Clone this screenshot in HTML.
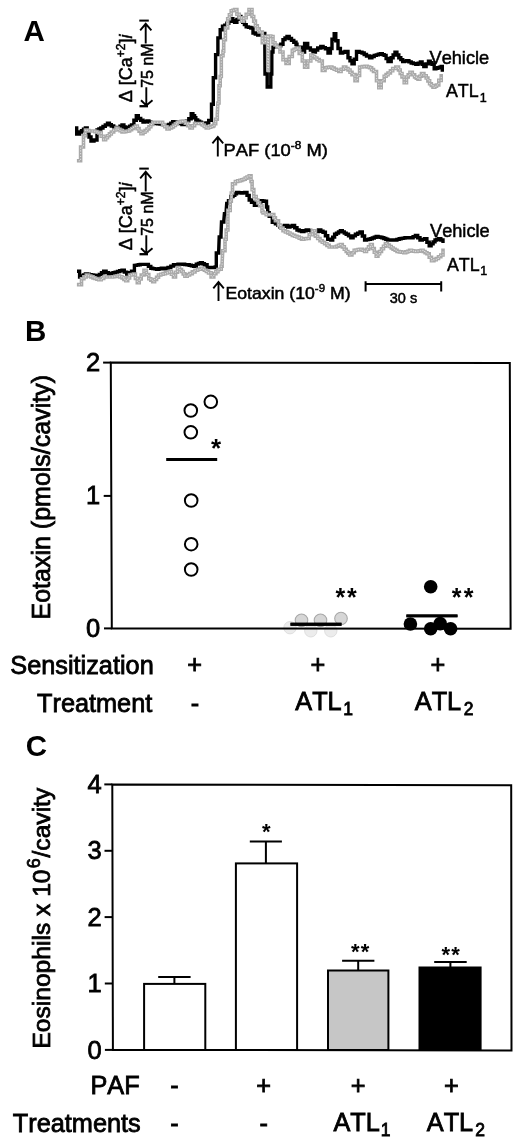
<!DOCTYPE html>
<html><head><meta charset="utf-8"><title>Figure</title>
<style>
html,body{margin:0;padding:0;background:#fff;}
svg{display:block;}
svg text{font-family:"Liberation Sans", Arial, Helvetica, sans-serif;fill:#000;font-kerning:none;stroke:#000;stroke-width:0.8px;}
svg text.nb{stroke:none;}
svg text.th{stroke-width:0.5px;}
</style></head>
<body>
<svg width="520" height="1144" viewBox="0 0 520 1144">
<rect width="520" height="1144" fill="#fff"/>
<text x="23.5" y="40.6" class="nb" font-size="29.5" font-weight="700">A</text>
<text x="25" y="340.9" class="nb" font-size="29.5" font-weight="700">B</text>
<text x="25.8" y="756.3" class="nb" font-size="29.5" font-weight="700">C</text>
<path d="M76.7 128.0 L76.7 134.0 L79.6 134.0 L79.6 132.0 L81.5 132.0 L81.5 130.7 L83.5 130.7 L83.5 129.3 L85.4 129.3 L85.4 128.0 L87.2 128.0 L87.2 132.5 L89.0 132.5 L89.0 137.0 L91.0 137.0 L91.0 141.0 L94.0 141.0 L94.0 140.0 L97.0 140.0 L97.0 130.0 L98.9 130.0 L98.9 129.0 L100.8 129.0 L100.8 128.0 L103.0 128.0 L103.0 126.4 L105.3 126.4 L105.3 124.9 L107.5 124.9 L107.5 123.3 L109.4 123.3 L109.4 124.7 L111.3 124.7 L111.3 126.0 L113.7 126.0 L113.7 127.5 L116.0 127.5 L116.0 129.0 L118.0 129.0 L118.0 127.7 L120.0 127.7 L120.0 126.3 L122.0 126.3 L122.0 125.0 L123.9 125.0 L123.9 127.0 L125.8 127.0 L125.8 129.0 L127.7 129.0 L127.7 127.7 L129.6 127.7 L129.6 126.3 L131.5 126.3 L131.5 125.0 L133.9 125.0 L133.9 120.3 L136.3 120.3 L136.3 115.6 L138.3 115.6 L138.3 118.5 L140.7 118.5 L140.7 120.2 L143.0 120.2 L143.0 122.0 L145.0 122.0 L145.0 121.5 L147.0 121.5 L147.0 121.0 L148.9 121.0 L148.9 122.0 L150.8 122.0 L150.8 123.0 L153.1 123.0 L153.1 123.2 L155.4 123.2 L155.4 123.5 L157.7 123.5 L157.7 123.8 L160.0 123.8 L160.0 124.0 L162.3 124.0 L162.3 124.6 L164.6 124.6 L164.6 125.2 L166.9 125.2 L166.9 125.8 L168.8 125.8 L168.8 124.4 L170.8 124.4 L170.8 123.1 L172.7 123.1 L172.7 121.7 L174.4 121.7 L174.4 121.7 L176.2 121.7 L176.2 121.7 L178.1 121.7 L178.1 122.7 L180.0 122.7 L180.0 123.6 L181.9 123.6 L181.9 124.6 L184.2 124.6 L184.2 122.7 L186.5 122.7 L186.5 120.7 L188.8 120.7 L188.8 118.8 L191.2 118.8 L191.2 113.7 L192.9 113.7 L192.9 115.7 L194.6 115.7 L194.6 117.7 L195.8 117.7 L195.8 120.0 L197.7 120.0 L197.7 121.2 L199.6 121.2 L199.6 122.3 L201.5 122.3 L201.5 123.5 L203.8 123.5 L203.8 123.2 L206.2 123.2 L206.2 122.9 L208.7 122.9 L208.7 120.4 L211.5 120.4 L211.5 120.4 L211.5 104.2 L213.3 104.2 L213.3 103.0 L213.3 77.7 L215.6 77.7 L215.6 76.5 L215.6 54.6 L217.9 54.6 L217.9 53.5 L217.9 37.9 L220.2 37.9 L220.2 36.7 L220.2 29.8 L222.5 29.8 L222.5 26.3 L224.8 26.3 L224.8 25.2 L226.8 25.2 L226.8 23.2 L228.8 23.2 L228.8 21.2 L231.2 21.2 L231.2 18.8 L232.9 18.8 L232.9 20.6 L234.6 20.6 L234.6 22.3 L236.9 22.3 L236.9 19.4 L239.2 19.4 L239.2 16.5 L240.9 16.5 L240.9 19.4 L242.7 19.4 L242.7 22.3 L244.4 22.3 L244.4 24.6 L246.2 24.6 L246.2 26.9 L248.5 26.9 L248.5 27.4 L250.8 27.4 L250.8 28.0 L253.0 28.0 L253.0 33.0 L255.3 33.0 L255.3 34.0 L257.7 34.0 L257.7 35.0 L260.0 35.0 L260.0 34.2 L262.3 34.2 L262.3 33.5 L264.8 33.5 L264.8 40.0 L265.0 74.0 L267.2 74.0 L267.2 87.0 L268.6 87.0 L268.6 87.0 L270.8 87.0 L270.8 74.0 L271.8 74.0 L271.8 52.0 L273.0 52.0 L273.0 47.3 L275.0 47.3 L275.0 47.3 L277.0 47.3 L277.0 47.3 L278.9 47.3 L278.9 45.8 L280.8 45.8 L280.8 44.2 L283.0 44.2 L283.0 39.6 L285.0 39.6 L285.0 38.0 L287.0 38.0 L287.0 36.5 L289.2 36.5 L289.2 38.5 L291.5 38.5 L291.5 40.4 L293.8 40.4 L293.8 42.3 L296.0 42.3 L296.0 44.2 L297.0 44.2 L297.0 47.3 L298.9 47.3 L298.9 47.3 L300.8 47.3 L300.8 47.3 L303.0 47.3 L303.0 52.0 L304.6 52.0 L304.6 43.5 L307.7 43.5 L307.7 48.0 L310.4 48.0 L310.4 50.0 L313.0 50.0 L313.0 52.0 L315.4 52.0 L315.4 50.0 L317.7 50.0 L317.7 48.0 L320.8 48.0 L320.8 46.5 L323.1 46.5 L323.1 47.6 L325.4 47.6 L325.4 48.8 L328.0 48.8 L328.0 53.0 L330.4 53.0 L330.4 48.5 L332.0 48.5 L332.0 39.2 L334.2 39.2 L334.2 33.8 L335.8 33.8 L335.8 40.8 L338.0 40.8 L338.0 48.5 L340.4 48.5 L340.4 53.0 L342.7 53.0 L342.7 52.2 L345.0 52.2 L345.0 51.5 L348.0 51.5 L348.0 57.7 L350.0 57.7 L350.0 60.8 L352.0 60.8 L352.0 63.8 L354.2 63.8 L354.2 59.2 L356.5 59.2 L356.5 51.5 L359.2 51.5 L359.2 52.2 L362.0 52.2 L362.0 53.0 L364.2 53.0 L364.2 54.5 L366.5 54.5 L366.5 56.0 L369.6 56.0 L369.6 57.7 L371.9 57.7 L371.9 56.5 L374.2 56.5 L374.2 55.4 L376.3 55.4 L376.3 54.9 L378.3 54.9 L378.3 54.3 L380.4 54.3 L380.4 53.8 L382.3 53.8 L382.3 54.6 L384.2 54.6 L384.2 55.4 L386.1 55.4 L386.1 58.5 L388.0 58.5 L388.0 61.5 L391.2 61.5 L391.2 57.7 L393.1 57.7 L393.1 55.0 L395.0 55.0 L395.0 52.3 L396.9 52.3 L396.9 55.0 L398.8 55.0 L398.8 57.7 L400.8 57.7 L400.8 59.6 L402.7 59.6 L402.7 61.5 L404.6 61.5 L404.6 61.1 L406.5 61.1 L406.5 60.8 L408.9 60.8 L408.9 61.9 L411.2 61.9 L411.2 63.0 L413.5 63.0 L413.5 63.6 L415.8 63.6 L415.8 64.2 L418.1 64.2 L418.1 63.1 L420.4 63.1 L420.4 62.0 L422.1 62.0 L422.1 64.2 L423.8 64.2 L423.8 66.5 L426.1 66.5 L426.1 63.9 L428.5 63.9 L428.5 61.3 L430.2 61.3 L430.2 62.8 L432.0 62.8 L432.0 64.2 L434.2 64.2 L434.2 68.8 L435.9 68.8 L435.9 68.2 L437.7 68.2 L437.7 67.7 L439.4 67.7 L439.4 67.1 L441.2 67.1 L441.2 66.5 L442.3 66.5 L442.3 70.0" fill="none" stroke="#000" stroke-width="3.4" stroke-linejoin="miter" stroke-linecap="square"/>
<path d="M78.7 160.8 L80.6 160.8 L80.6 147.0 L83.5 147.0 L83.5 135.8 L85.4 135.8 L85.4 130.0 L87.2 130.0 L87.2 130.5 L89.0 130.5 L89.0 131.0 L91.0 131.0 L91.0 131.0 L93.0 131.0 L93.0 131.0 L94.9 131.0 L94.9 131.6 L96.9 131.6 L96.9 132.3 L98.8 132.3 L98.8 132.9 L101.2 132.9 L101.2 136.2 L103.7 136.2 L103.7 139.6 L105.6 139.6 L105.6 137.7 L107.5 137.7 L107.5 135.8 L109.4 135.8 L109.4 133.9 L111.3 133.9 L111.3 132.0 L113.7 132.0 L113.7 130.0 L116.0 130.0 L116.0 128.0 L118.0 128.0 L118.0 129.3 L120.0 129.3 L120.0 130.7 L122.0 130.7 L122.0 132.0 L123.9 132.0 L123.9 131.7 L125.8 131.7 L125.8 131.3 L127.7 131.3 L127.7 131.0 L129.6 131.0 L129.6 129.8 L131.6 129.8 L131.6 128.5 L133.5 128.5 L133.5 127.2 L135.4 127.2 L135.4 126.0 L137.3 126.0 L137.3 128.6 L139.1 128.6 L139.1 131.2 L141.0 131.2 L141.0 133.8 L143.0 133.8 L143.0 132.2 L145.0 132.2 L145.0 130.6 L147.0 130.6 L147.0 129.0 L148.9 129.0 L148.9 126.8 L150.8 126.8 L150.8 124.5 L152.7 124.5 L152.7 122.3 L154.6 122.3 L154.6 122.3 L156.6 122.3 L156.6 122.3 L158.5 122.3 L158.5 122.3 L160.4 122.3 L160.4 122.3 L162.6 122.3 L162.6 124.5 L164.8 124.5 L164.8 126.8 L167.0 126.8 L167.0 129.0 L169.2 129.0 L169.2 128.0 L171.5 128.0 L171.5 127.0 L173.4 127.0 L173.4 125.4 L175.4 125.4 L175.4 123.9 L177.3 123.9 L177.3 122.3 L179.2 122.3 L179.2 121.9 L181.1 121.9 L181.1 121.4 L183.0 121.4 L183.0 121.0 L185.3 121.0 L185.3 123.3 L187.7 123.3 L187.7 125.7 L190.0 125.7 L190.0 128.0 L192.3 128.0 L192.3 125.8 L194.6 125.8 L194.6 123.5 L196.5 123.5 L196.5 123.5 L198.5 123.5 L198.5 123.5 L200.4 123.5 L200.4 123.5 L202.3 123.5 L202.3 125.0 L204.3 125.0 L204.3 126.5 L206.2 126.5 L206.2 128.0 L208.5 128.0 L208.5 127.3 L210.7 127.3 L210.7 126.5 L213.0 126.5 L213.0 125.8 L214.0 125.8 L214.0 123.8 L215.7 123.8 L215.7 119.2 L217.3 119.2 L217.3 114.6 L217.9 103.0 L219.0 103.0 L219.0 85.8 L220.2 85.8 L220.2 76.5 L221.3 76.5 L221.3 62.7 L221.3 55.8 L223.0 55.8 L223.0 51.2 L223.7 51.2 L223.7 39.6 L225.4 39.6 L225.4 28.0 L227.7 28.0 L227.7 18.8 L229.4 18.8 L229.4 14.8 L231.2 14.8 L231.2 10.8 L232.9 10.8 L232.9 10.2 L234.6 10.2 L234.6 9.6 L236.9 9.6 L236.9 14.2 L239.2 14.2 L239.2 17.7 L241.5 17.7 L241.5 21.2 L243.8 21.2 L243.8 17.7 L246.2 17.7 L246.2 14.2 L249.0 14.2 L249.0 9.6 L252.0 9.6 L252.0 16.5 L253.7 16.5 L253.7 21.1 L255.4 21.1 L255.4 25.8 L257.3 25.8 L257.3 28.9 L259.2 28.9 L259.2 32.0 L262.3 32.0 L262.3 42.7 L265.4 42.7 L265.4 36.5 L267.6 36.5 L267.6 36.0 L267.8 70.0 L268.4 70.0 L268.6 36.0 L270.8 36.0 L270.8 36.5 L273.0 36.5 L273.0 42.7 L275.0 42.7 L275.0 45.0 L277.0 45.0 L277.0 47.3 L280.0 47.3 L280.0 52.0 L283.0 52.0 L283.0 59.6 L286.0 59.6 L286.0 63.5 L289.2 63.5 L289.2 56.5 L292.3 56.5 L292.3 50.4 L294.1 50.4 L294.1 49.2 L296.0 49.2 L296.0 48.0 L299.2 48.0 L299.2 53.5 L302.3 53.5 L302.3 61.0 L304.6 61.0 L304.6 67.3 L307.7 67.3 L307.7 61.0 L310.8 61.0 L310.8 55.0 L312.7 55.0 L312.7 56.5 L314.6 56.5 L314.6 58.0 L316.9 58.0 L316.9 59.5 L319.2 59.5 L319.2 61.0 L322.3 61.0 L322.3 70.4 L325.0 70.4 L325.0 67.7 L327.3 67.7 L327.3 67.3 L329.6 67.3 L329.6 67.0 L331.9 67.0 L331.9 68.1 L334.2 68.1 L334.2 69.2 L336.5 69.2 L336.5 70.3 L338.8 70.3 L338.8 71.5 L341.1 71.5 L341.1 69.2 L343.5 69.2 L343.5 67.0 L345.8 67.0 L345.8 68.5 L348.0 68.5 L348.0 70.0 L350.0 70.0 L350.0 72.3 L352.0 72.3 L352.0 74.6 L355.0 74.6 L355.0 80.8 L357.3 80.8 L357.3 75.4 L359.6 75.4 L359.6 67.0 L362.3 67.0 L362.3 66.6 L365.0 66.6 L365.0 66.2 L367.3 66.2 L367.3 67.0 L369.6 67.0 L369.6 67.7 L371.6 67.7 L371.6 69.6 L373.5 69.6 L373.5 71.5 L376.5 71.5 L376.5 80.8 L378.8 80.8 L378.8 87.7 L381.2 87.7 L381.2 80.8 L384.2 80.8 L384.2 76.2 L386.1 76.2 L386.1 74.6 L388.0 74.6 L388.0 73.0 L390.4 73.0 L390.4 70.8 L392.7 70.8 L392.7 68.5 L395.8 68.5 L395.8 67.0 L398.5 67.0 L398.5 70.0 L400.2 70.0 L400.2 73.5 L402.0 73.5 L402.0 77.0 L404.2 77.0 L404.2 82.7 L406.5 82.7 L406.5 77.0 L408.2 77.0 L408.2 74.7 L410.0 74.7 L410.0 72.3 L412.3 72.3 L412.3 74.7 L414.6 74.7 L414.6 77.0 L416.3 77.0 L416.3 78.1 L418.0 78.1 L418.0 79.2 L419.8 79.2 L419.8 76.3 L421.5 76.3 L421.5 73.5 L423.9 73.5 L423.9 75.8 L426.2 75.8 L426.2 78.0 L427.9 78.0 L427.9 80.9 L429.6 80.9 L429.6 83.8 L431.3 83.8 L431.3 85.5 L433.0 85.5 L433.0 87.3 L434.8 87.3 L434.8 86.2 L436.5 86.2 L436.5 85.0 L438.8 85.0 L438.8 80.4 L441.2 80.4 L441.2 75.8" fill="none" stroke="#a9a9a9" stroke-width="3.6" stroke-linejoin="miter" stroke-linecap="square"/>
<path d="M78.7 160.8 L80.6 160.8 L80.6 147.0 L83.5 147.0 L83.5 135.8 L85.4 135.8 L85.4 130.0 L87.2 130.0 L87.2 130.5 L89.0 130.5 L89.0 131.0 L91.0 131.0 L91.0 131.0 L93.0 131.0 L93.0 131.0 L94.9 131.0 L94.9 131.6 L96.9 131.6 L96.9 132.3 L98.8 132.3 L98.8 132.9 L101.2 132.9 L101.2 136.2 L103.7 136.2 L103.7 139.6 L105.6 139.6 L105.6 137.7 L107.5 137.7 L107.5 135.8 L109.4 135.8 L109.4 133.9 L111.3 133.9 L111.3 132.0 L113.7 132.0 L113.7 130.0 L116.0 130.0 L116.0 128.0 L118.0 128.0 L118.0 129.3 L120.0 129.3 L120.0 130.7 L122.0 130.7 L122.0 132.0 L123.9 132.0 L123.9 131.7 L125.8 131.7 L125.8 131.3 L127.7 131.3 L127.7 131.0 L129.6 131.0 L129.6 129.8 L131.6 129.8 L131.6 128.5 L133.5 128.5 L133.5 127.2 L135.4 127.2 L135.4 126.0 L137.3 126.0 L137.3 128.6 L139.1 128.6 L139.1 131.2 L141.0 131.2 L141.0 133.8 L143.0 133.8 L143.0 132.2 L145.0 132.2 L145.0 130.6 L147.0 130.6 L147.0 129.0 L148.9 129.0 L148.9 126.8 L150.8 126.8 L150.8 124.5 L152.7 124.5 L152.7 122.3 L154.6 122.3 L154.6 122.3 L156.6 122.3 L156.6 122.3 L158.5 122.3 L158.5 122.3 L160.4 122.3 L160.4 122.3 L162.6 122.3 L162.6 124.5 L164.8 124.5 L164.8 126.8 L167.0 126.8 L167.0 129.0 L169.2 129.0 L169.2 128.0 L171.5 128.0 L171.5 127.0 L173.4 127.0 L173.4 125.4 L175.4 125.4 L175.4 123.9 L177.3 123.9 L177.3 122.3 L179.2 122.3 L179.2 121.9 L181.1 121.9 L181.1 121.4 L183.0 121.4 L183.0 121.0 L185.3 121.0 L185.3 123.3 L187.7 123.3 L187.7 125.7 L190.0 125.7 L190.0 128.0 L192.3 128.0 L192.3 125.8 L194.6 125.8 L194.6 123.5 L196.5 123.5 L196.5 123.5 L198.5 123.5 L198.5 123.5 L200.4 123.5 L200.4 123.5 L202.3 123.5 L202.3 125.0 L204.3 125.0 L204.3 126.5 L206.2 126.5 L206.2 128.0 L208.5 128.0 L208.5 127.3 L210.7 127.3 L210.7 126.5 L213.0 126.5 L213.0 125.8 L214.0 125.8 L214.0 123.8 L215.7 123.8 L215.7 119.2 L217.3 119.2 L217.3 114.6 L217.9 103.0 L219.0 103.0 L219.0 85.8 L220.2 85.8 L220.2 76.5 L221.3 76.5 L221.3 62.7 L221.3 55.8 L223.0 55.8 L223.0 51.2 L223.7 51.2 L223.7 39.6 L225.4 39.6 L225.4 28.0 L227.7 28.0 L227.7 18.8 L229.4 18.8 L229.4 14.8 L231.2 14.8 L231.2 10.8 L232.9 10.8 L232.9 10.2 L234.6 10.2 L234.6 9.6 L236.9 9.6 L236.9 14.2 L239.2 14.2 L239.2 17.7 L241.5 17.7 L241.5 21.2 L243.8 21.2 L243.8 17.7 L246.2 17.7 L246.2 14.2 L249.0 14.2 L249.0 9.6 L252.0 9.6 L252.0 16.5 L253.7 16.5 L253.7 21.1 L255.4 21.1 L255.4 25.8 L257.3 25.8 L257.3 28.9 L259.2 28.9 L259.2 32.0 L262.3 32.0 L262.3 42.7 L265.4 42.7 L265.4 36.5 L267.6 36.5 L267.6 36.0 L267.8 70.0 L268.4 70.0 L268.6 36.0 L270.8 36.0 L270.8 36.5 L273.0 36.5 L273.0 42.7 L275.0 42.7 L275.0 45.0 L277.0 45.0 L277.0 47.3 L280.0 47.3 L280.0 52.0 L283.0 52.0 L283.0 59.6 L286.0 59.6 L286.0 63.5 L289.2 63.5 L289.2 56.5 L292.3 56.5 L292.3 50.4 L294.1 50.4 L294.1 49.2 L296.0 49.2 L296.0 48.0 L299.2 48.0 L299.2 53.5 L302.3 53.5 L302.3 61.0 L304.6 61.0 L304.6 67.3 L307.7 67.3 L307.7 61.0 L310.8 61.0 L310.8 55.0 L312.7 55.0 L312.7 56.5 L314.6 56.5 L314.6 58.0 L316.9 58.0 L316.9 59.5 L319.2 59.5 L319.2 61.0 L322.3 61.0 L322.3 70.4 L325.0 70.4 L325.0 67.7 L327.3 67.7 L327.3 67.3 L329.6 67.3 L329.6 67.0 L331.9 67.0 L331.9 68.1 L334.2 68.1 L334.2 69.2 L336.5 69.2 L336.5 70.3 L338.8 70.3 L338.8 71.5 L341.1 71.5 L341.1 69.2 L343.5 69.2 L343.5 67.0 L345.8 67.0 L345.8 68.5 L348.0 68.5 L348.0 70.0 L350.0 70.0 L350.0 72.3 L352.0 72.3 L352.0 74.6 L355.0 74.6 L355.0 80.8 L357.3 80.8 L357.3 75.4 L359.6 75.4 L359.6 67.0 L362.3 67.0 L362.3 66.6 L365.0 66.6 L365.0 66.2 L367.3 66.2 L367.3 67.0 L369.6 67.0 L369.6 67.7 L371.6 67.7 L371.6 69.6 L373.5 69.6 L373.5 71.5 L376.5 71.5 L376.5 80.8 L378.8 80.8 L378.8 87.7 L381.2 87.7 L381.2 80.8 L384.2 80.8 L384.2 76.2 L386.1 76.2 L386.1 74.6 L388.0 74.6 L388.0 73.0 L390.4 73.0 L390.4 70.8 L392.7 70.8 L392.7 68.5 L395.8 68.5 L395.8 67.0 L398.5 67.0 L398.5 70.0 L400.2 70.0 L400.2 73.5 L402.0 73.5 L402.0 77.0 L404.2 77.0 L404.2 82.7 L406.5 82.7 L406.5 77.0 L408.2 77.0 L408.2 74.7 L410.0 74.7 L410.0 72.3 L412.3 72.3 L412.3 74.7 L414.6 74.7 L414.6 77.0 L416.3 77.0 L416.3 78.1 L418.0 78.1 L418.0 79.2 L419.8 79.2 L419.8 76.3 L421.5 76.3 L421.5 73.5 L423.9 73.5 L423.9 75.8 L426.2 75.8 L426.2 78.0 L427.9 78.0 L427.9 80.9 L429.6 80.9 L429.6 83.8 L431.3 83.8 L431.3 85.5 L433.0 85.5 L433.0 87.3 L434.8 87.3 L434.8 86.2 L436.5 86.2 L436.5 85.0 L438.8 85.0 L438.8 80.4 L441.2 80.4 L441.2 75.8" fill="none" stroke="#dedede" stroke-width="1.1" stroke-dasharray="1.2 1.6" stroke-linejoin="miter"/>
<path d="M78.7 271.2 L79.6 271.2 L79.6 277.0 L81.5 277.0 L81.5 276.0 L83.5 276.0 L83.5 275.0 L85.4 275.0 L85.4 274.0 L87.3 274.0 L87.3 274.3 L89.3 274.3 L89.3 274.7 L91.2 274.7 L91.2 275.0 L93.1 275.0 L93.1 275.3 L95.1 275.3 L95.1 275.7 L97.0 275.7 L97.0 276.0 L99.2 276.0 L99.2 274.4 L101.5 274.4 L101.5 272.8 L103.7 272.8 L103.7 271.2 L106.1 271.2 L106.1 272.6 L108.5 272.6 L108.5 274.0 L110.7 274.0 L110.7 273.4 L113.0 273.4 L113.0 272.7 L115.2 272.7 L115.2 272.1 L117.5 272.1 L117.5 271.5 L119.7 271.5 L119.7 270.8 L122.0 270.8 L122.0 270.2 L124.3 270.2 L124.3 272.1 L126.7 272.1 L126.7 274.0 L129.1 274.0 L129.1 272.6 L131.5 272.6 L131.5 271.2 L134.4 271.2 L134.4 265.4 L136.3 265.4 L136.3 265.1 L138.3 265.1 L138.3 264.7 L140.2 264.7 L140.2 264.4 L142.1 264.4 L142.1 264.4 L144.1 264.4 L144.1 264.4 L146.0 264.4 L146.0 264.4 L148.4 264.4 L148.4 266.4 L150.8 266.4 L150.8 268.3 L152.7 268.3 L152.7 268.6 L154.6 268.6 L154.6 268.9 L156.5 268.9 L156.5 269.2 L158.9 269.2 L158.9 268.8 L161.3 268.8 L161.3 268.3 L164.0 268.3 L164.0 268.8 L166.0 268.8 L166.0 268.1 L168.0 268.1 L168.0 267.5 L170.8 267.5 L170.8 266.1 L173.5 266.1 L173.5 264.8 L175.7 264.8 L175.7 264.6 L178.0 264.6 L178.0 264.3 L180.2 264.3 L180.2 264.1 L182.5 264.1 L182.5 264.3 L184.7 264.3 L184.7 264.6 L187.0 264.6 L187.0 264.8 L189.2 264.8 L189.2 265.3 L191.4 265.3 L191.4 265.7 L193.6 265.7 L193.6 266.2 L196.3 266.2 L196.3 264.1 L198.4 264.1 L198.4 263.5 L200.4 263.5 L200.4 262.8 L202.4 262.8 L202.4 263.8 L204.4 263.8 L204.4 264.8 L207.1 264.8 L207.1 267.5 L209.3 267.5 L209.3 267.5 L211.6 267.5 L211.6 267.5 L213.8 267.5 L213.8 267.5 L215.2 267.5 L215.2 267.0 L216.3 267.0 L216.3 253.0 L218.7 253.0 L218.7 250.8 L219.2 237.0 L221.0 237.0 L221.0 234.6 L221.5 222.0 L223.8 222.0 L223.8 220.8 L224.4 213.8 L226.2 213.8 L226.2 210.4 L226.7 203.5 L228.5 203.5 L228.5 200.6 L230.8 200.6 L230.8 196.5 L233.0 196.5 L233.0 195.4 L234.8 195.4 L234.8 193.9 L236.5 193.9 L236.5 192.5 L238.8 192.5 L238.8 192.8 L241.2 192.8 L241.2 193.0 L242.9 193.0 L242.9 192.8 L244.6 192.8 L244.6 192.5 L247.0 192.5 L247.0 195.4 L249.2 195.4 L249.2 200.0 L251.5 200.0 L251.5 202.3 L254.4 202.3 L254.4 205.2 L257.3 205.2 L257.3 203.5 L259.1 203.5 L259.1 202.1 L260.8 202.1 L260.8 200.6 L262.5 200.6 L262.5 200.9 L264.2 200.9 L264.2 201.2 L266.5 201.2 L266.5 207.0 L267.7 207.0 L267.7 212.7 L269.2 212.7 L269.2 216.2 L272.3 216.2 L272.3 222.3 L275.4 222.3 L275.4 223.8 L277.7 223.8 L277.7 225.4 L280.0 225.4 L280.0 227.0 L282.3 227.0 L282.3 226.2 L284.6 226.2 L284.6 225.4 L287.7 225.4 L287.7 227.0 L290.0 227.0 L290.0 226.2 L292.3 226.2 L292.3 225.4 L294.6 225.4 L294.6 227.7 L297.0 227.7 L297.0 230.0 L299.2 230.0 L299.2 230.8 L301.5 230.8 L301.5 231.5 L303.9 231.5 L303.9 230.8 L306.2 230.8 L306.2 230.0 L308.5 230.0 L308.5 230.4 L310.8 230.4 L310.8 230.8 L313.1 230.8 L313.1 231.2 L315.4 231.2 L315.4 231.5 L318.5 231.5 L318.5 230.0 L320.8 230.0 L320.8 231.2 L323.0 231.2 L323.0 232.3 L325.4 232.3 L325.4 235.8 L327.7 235.8 L327.7 239.2 L330.8 239.2 L330.8 240.0 L332.7 240.0 L332.7 237.1 L334.6 237.1 L334.6 234.2 L336.5 234.2 L336.5 233.1 L338.5 233.1 L338.5 231.9 L340.4 231.9 L340.4 230.8 L342.3 230.8 L342.3 231.9 L344.3 231.9 L344.3 233.1 L346.2 233.1 L346.2 234.2 L348.5 234.2 L348.5 235.9 L350.8 235.9 L350.8 237.7 L353.1 237.7 L353.1 235.9 L355.4 235.9 L355.4 234.2 L357.7 234.2 L357.7 233.1 L360.0 233.1 L360.0 232.0 L362.3 232.0 L362.3 236.0 L364.6 236.0 L364.6 240.0 L366.5 240.0 L366.5 239.6 L368.5 239.6 L368.5 239.2 L370.4 239.2 L370.4 238.8 L372.3 238.8 L372.3 238.0 L374.3 238.0 L374.3 237.3 L376.2 237.3 L376.2 236.5 L378.1 236.5 L378.1 236.9 L380.0 236.9 L380.0 237.3 L381.9 237.3 L381.9 237.7 L383.8 237.7 L383.8 238.5 L385.8 238.5 L385.8 239.2 L387.7 239.2 L387.7 240.0 L390.0 240.0 L390.0 240.0 L392.3 240.0 L392.3 240.0 L394.6 240.0 L394.6 240.0 L396.9 240.0 L396.9 239.4 L399.2 239.4 L399.2 238.8 L401.1 238.8 L401.1 238.4 L403.1 238.4 L403.1 238.1 L405.0 238.1 L405.0 237.7 L406.9 237.7 L406.9 237.7 L408.9 237.7 L408.9 237.7 L410.8 237.7 L410.8 237.7 L413.1 237.7 L413.1 236.6 L415.4 236.6 L415.4 235.4 L417.7 235.4 L417.7 237.7 L420.0 237.7 L420.0 240.0 L422.3 240.0 L422.3 239.4 L424.6 239.4 L424.6 238.8 L426.9 238.8 L426.9 242.3 L429.2 242.3 L429.2 245.8 L431.1 245.8 L431.1 243.9 L433.1 243.9 L433.1 241.9 L435.0 241.9 L435.0 240.0 L436.8 240.0 L436.8 239.4 L438.5 239.4 L438.5 238.8 L440.8 238.8 L440.8 240.0 L443.0 240.0 L443.0 241.2" fill="none" stroke="#000" stroke-width="3.4" stroke-linejoin="miter" stroke-linecap="square"/>
<path d="M78.7 284.6 L81.5 284.6 L81.5 278.8 L83.9 278.8 L83.9 276.9 L86.3 276.9 L86.3 275.0 L88.5 275.0 L88.5 276.0 L90.8 276.0 L90.8 276.9 L93.0 276.9 L93.0 277.9 L94.9 277.9 L94.9 278.5 L96.9 278.5 L96.9 279.2 L98.8 279.2 L98.8 279.8 L101.2 279.8 L101.2 278.4 L103.7 278.4 L103.7 277.0 L105.9 277.0 L105.9 277.0 L108.2 277.0 L108.2 277.0 L110.4 277.0 L110.4 277.0 L112.6 277.0 L112.6 276.7 L114.8 276.7 L114.8 276.3 L117.0 276.3 L117.0 276.0 L119.5 276.0 L119.5 276.9 L122.0 276.9 L122.0 277.9 L123.9 277.9 L123.9 279.4 L125.8 279.4 L125.8 280.8 L127.7 280.8 L127.7 277.9 L129.6 277.9 L129.6 275.0 L131.6 275.0 L131.6 274.5 L133.5 274.5 L133.5 274.0 L135.4 274.0 L135.4 278.4 L137.3 278.4 L137.3 282.7 L139.2 282.7 L139.2 278.9 L141.2 278.9 L141.2 275.0 L144.0 275.0 L144.0 270.2 L146.4 270.2 L146.4 274.5 L148.8 274.5 L148.8 278.8 L150.8 278.8 L150.8 280.2 L152.7 280.2 L152.7 281.7 L154.6 281.7 L154.6 279.5 L156.6 279.5 L156.6 277.2 L158.5 277.2 L158.5 275.0 L160.8 275.0 L160.8 274.3 L163.1 274.3 L163.1 273.6 L165.4 273.6 L165.4 272.9 L167.4 272.9 L167.4 272.2 L169.4 272.2 L169.4 271.5 L171.4 271.5 L171.4 274.2 L173.5 274.2 L173.5 277.0 L175.5 277.0 L175.5 272.2 L177.5 272.2 L177.5 267.5 L179.5 267.5 L179.5 269.5 L181.5 269.5 L181.5 271.5 L183.2 271.5 L183.2 273.9 L184.9 273.9 L184.9 276.2 L187.2 276.2 L187.2 274.9 L189.6 274.9 L189.6 273.6 L192.3 273.6 L192.3 271.9 L195.0 271.9 L195.0 270.2 L197.7 270.2 L197.7 269.2 L200.4 269.2 L200.4 268.2 L202.4 268.2 L202.4 269.2 L204.4 269.2 L204.4 270.2 L206.4 270.2 L206.4 271.5 L208.5 271.5 L208.5 272.9 L211.1 272.9 L211.1 277.0 L213.8 277.0 L213.8 273.6 L215.9 273.6 L215.9 271.6 L217.9 271.6 L217.9 269.5 L219.2 269.5 L219.2 269.2 L221.2 269.2 L221.2 266.2 L222.1 266.2 L222.1 263.5 L222.7 250.8 L225.0 250.8 L225.0 239.2 L226.2 239.2 L226.2 230.0 L227.9 230.0 L227.9 222.0 L227.9 210.4 L230.2 210.4 L230.2 201.2 L231.3 201.2 L231.3 193.0 L232.5 193.0 L232.5 183.8 L235.4 183.8 L235.4 181.5 L237.7 181.5 L237.7 180.9 L240.0 180.9 L240.0 180.4 L241.8 180.4 L241.8 179.8 L243.5 179.8 L243.5 179.2 L245.2 179.2 L245.2 178.1 L247.0 178.1 L247.0 177.0 L249.2 177.0 L249.2 175.8 L251.0 175.8 L251.0 181.5 L252.1 181.5 L252.1 189.6 L253.8 189.6 L253.8 196.5 L256.2 196.5 L256.2 200.0 L257.9 200.0 L257.9 202.9 L259.6 202.9 L259.6 205.8 L262.0 205.8 L262.0 211.5 L263.0 211.5 L263.0 213.0 L266.2 213.0 L266.2 214.6 L268.5 214.6 L268.5 214.6 L270.8 214.6 L270.8 214.6 L273.8 214.6 L273.8 217.7 L275.4 217.7 L275.4 220.8 L278.5 220.8 L278.5 225.4 L280.8 225.4 L280.8 228.1 L283.0 228.1 L283.0 230.8 L285.4 230.8 L285.4 231.9 L287.7 231.9 L287.7 233.0 L290.0 233.0 L290.0 234.2 L292.3 234.2 L292.3 235.4 L294.6 235.4 L294.6 236.2 L297.0 236.2 L297.0 237.0 L299.2 237.0 L299.2 238.1 L301.5 238.1 L301.5 239.2 L303.9 239.2 L303.9 238.8 L306.2 238.8 L306.2 238.5 L309.2 238.5 L309.2 234.6 L312.3 234.6 L312.3 230.8 L315.4 230.8 L315.4 236.2 L317.7 236.2 L317.7 238.5 L320.0 238.5 L320.0 240.8 L322.3 240.8 L322.3 242.3 L324.6 242.3 L324.6 243.8 L326.9 243.8 L326.9 245.4 L329.2 245.4 L329.2 247.0 L331.9 247.0 L331.9 247.0 L334.6 247.0 L334.6 247.0 L336.5 247.0 L336.5 246.2 L338.5 246.2 L338.5 245.4 L340.4 245.4 L340.4 244.6 L342.3 244.6 L342.3 246.9 L344.3 246.9 L344.3 249.2 L346.2 249.2 L346.2 251.5 L347.9 251.5 L347.9 253.2 L349.6 253.2 L349.6 255.0 L351.9 255.0 L351.9 252.7 L354.2 252.7 L354.2 250.4 L356.1 250.4 L356.1 250.0 L358.1 250.0 L358.1 249.6 L360.0 249.6 L360.0 249.2 L362.3 249.2 L362.3 250.3 L364.6 250.3 L364.6 251.5 L366.5 251.5 L366.5 249.2 L368.5 249.2 L368.5 246.9 L370.4 246.9 L370.4 244.6 L372.3 244.6 L372.3 248.5 L374.3 248.5 L374.3 252.3 L376.2 252.3 L376.2 256.2 L377.9 256.2 L377.9 253.8 L379.6 253.8 L379.6 251.5 L381.5 251.5 L381.5 248.8 L383.5 248.8 L383.5 246.2 L385.4 246.2 L385.4 243.5 L387.3 243.5 L387.3 245.0 L389.3 245.0 L389.3 246.5 L391.2 246.5 L391.2 248.0 L393.1 248.0 L393.1 249.2 L395.1 249.2 L395.1 250.3 L397.0 250.3 L397.0 251.5 L399.3 251.5 L399.3 251.9 L401.5 251.9 L401.5 252.3 L403.8 252.3 L403.8 252.7 L405.7 252.7 L405.7 251.9 L407.7 251.9 L407.7 251.2 L409.6 251.2 L409.6 250.4 L411.5 250.4 L411.5 250.8 L413.5 250.8 L413.5 251.1 L415.4 251.1 L415.4 251.5 L417.3 251.5 L417.3 251.1 L419.3 251.1 L419.3 250.8 L421.2 250.8 L421.2 250.4 L423.1 250.4 L423.1 251.5 L425.1 251.5 L425.1 252.7 L427.0 252.7 L427.0 253.8 L429.2 253.8 L429.2 257.3 L431.5 257.3 L431.5 260.8 L433.9 260.8 L433.9 259.6 L436.2 259.6 L436.2 258.5 L438.5 258.5 L438.5 256.8 L440.8 256.8 L440.8 255.0 L443.0 255.0 L443.0 250.4" fill="none" stroke="#a9a9a9" stroke-width="3.6" stroke-linejoin="miter" stroke-linecap="square"/>
<path d="M78.7 284.6 L81.5 284.6 L81.5 278.8 L83.9 278.8 L83.9 276.9 L86.3 276.9 L86.3 275.0 L88.5 275.0 L88.5 276.0 L90.8 276.0 L90.8 276.9 L93.0 276.9 L93.0 277.9 L94.9 277.9 L94.9 278.5 L96.9 278.5 L96.9 279.2 L98.8 279.2 L98.8 279.8 L101.2 279.8 L101.2 278.4 L103.7 278.4 L103.7 277.0 L105.9 277.0 L105.9 277.0 L108.2 277.0 L108.2 277.0 L110.4 277.0 L110.4 277.0 L112.6 277.0 L112.6 276.7 L114.8 276.7 L114.8 276.3 L117.0 276.3 L117.0 276.0 L119.5 276.0 L119.5 276.9 L122.0 276.9 L122.0 277.9 L123.9 277.9 L123.9 279.4 L125.8 279.4 L125.8 280.8 L127.7 280.8 L127.7 277.9 L129.6 277.9 L129.6 275.0 L131.6 275.0 L131.6 274.5 L133.5 274.5 L133.5 274.0 L135.4 274.0 L135.4 278.4 L137.3 278.4 L137.3 282.7 L139.2 282.7 L139.2 278.9 L141.2 278.9 L141.2 275.0 L144.0 275.0 L144.0 270.2 L146.4 270.2 L146.4 274.5 L148.8 274.5 L148.8 278.8 L150.8 278.8 L150.8 280.2 L152.7 280.2 L152.7 281.7 L154.6 281.7 L154.6 279.5 L156.6 279.5 L156.6 277.2 L158.5 277.2 L158.5 275.0 L160.8 275.0 L160.8 274.3 L163.1 274.3 L163.1 273.6 L165.4 273.6 L165.4 272.9 L167.4 272.9 L167.4 272.2 L169.4 272.2 L169.4 271.5 L171.4 271.5 L171.4 274.2 L173.5 274.2 L173.5 277.0 L175.5 277.0 L175.5 272.2 L177.5 272.2 L177.5 267.5 L179.5 267.5 L179.5 269.5 L181.5 269.5 L181.5 271.5 L183.2 271.5 L183.2 273.9 L184.9 273.9 L184.9 276.2 L187.2 276.2 L187.2 274.9 L189.6 274.9 L189.6 273.6 L192.3 273.6 L192.3 271.9 L195.0 271.9 L195.0 270.2 L197.7 270.2 L197.7 269.2 L200.4 269.2 L200.4 268.2 L202.4 268.2 L202.4 269.2 L204.4 269.2 L204.4 270.2 L206.4 270.2 L206.4 271.5 L208.5 271.5 L208.5 272.9 L211.1 272.9 L211.1 277.0 L213.8 277.0 L213.8 273.6 L215.9 273.6 L215.9 271.6 L217.9 271.6 L217.9 269.5 L219.2 269.5 L219.2 269.2 L221.2 269.2 L221.2 266.2 L222.1 266.2 L222.1 263.5 L222.7 250.8 L225.0 250.8 L225.0 239.2 L226.2 239.2 L226.2 230.0 L227.9 230.0 L227.9 222.0 L227.9 210.4 L230.2 210.4 L230.2 201.2 L231.3 201.2 L231.3 193.0 L232.5 193.0 L232.5 183.8 L235.4 183.8 L235.4 181.5 L237.7 181.5 L237.7 180.9 L240.0 180.9 L240.0 180.4 L241.8 180.4 L241.8 179.8 L243.5 179.8 L243.5 179.2 L245.2 179.2 L245.2 178.1 L247.0 178.1 L247.0 177.0 L249.2 177.0 L249.2 175.8 L251.0 175.8 L251.0 181.5 L252.1 181.5 L252.1 189.6 L253.8 189.6 L253.8 196.5 L256.2 196.5 L256.2 200.0 L257.9 200.0 L257.9 202.9 L259.6 202.9 L259.6 205.8 L262.0 205.8 L262.0 211.5 L263.0 211.5 L263.0 213.0 L266.2 213.0 L266.2 214.6 L268.5 214.6 L268.5 214.6 L270.8 214.6 L270.8 214.6 L273.8 214.6 L273.8 217.7 L275.4 217.7 L275.4 220.8 L278.5 220.8 L278.5 225.4 L280.8 225.4 L280.8 228.1 L283.0 228.1 L283.0 230.8 L285.4 230.8 L285.4 231.9 L287.7 231.9 L287.7 233.0 L290.0 233.0 L290.0 234.2 L292.3 234.2 L292.3 235.4 L294.6 235.4 L294.6 236.2 L297.0 236.2 L297.0 237.0 L299.2 237.0 L299.2 238.1 L301.5 238.1 L301.5 239.2 L303.9 239.2 L303.9 238.8 L306.2 238.8 L306.2 238.5 L309.2 238.5 L309.2 234.6 L312.3 234.6 L312.3 230.8 L315.4 230.8 L315.4 236.2 L317.7 236.2 L317.7 238.5 L320.0 238.5 L320.0 240.8 L322.3 240.8 L322.3 242.3 L324.6 242.3 L324.6 243.8 L326.9 243.8 L326.9 245.4 L329.2 245.4 L329.2 247.0 L331.9 247.0 L331.9 247.0 L334.6 247.0 L334.6 247.0 L336.5 247.0 L336.5 246.2 L338.5 246.2 L338.5 245.4 L340.4 245.4 L340.4 244.6 L342.3 244.6 L342.3 246.9 L344.3 246.9 L344.3 249.2 L346.2 249.2 L346.2 251.5 L347.9 251.5 L347.9 253.2 L349.6 253.2 L349.6 255.0 L351.9 255.0 L351.9 252.7 L354.2 252.7 L354.2 250.4 L356.1 250.4 L356.1 250.0 L358.1 250.0 L358.1 249.6 L360.0 249.6 L360.0 249.2 L362.3 249.2 L362.3 250.3 L364.6 250.3 L364.6 251.5 L366.5 251.5 L366.5 249.2 L368.5 249.2 L368.5 246.9 L370.4 246.9 L370.4 244.6 L372.3 244.6 L372.3 248.5 L374.3 248.5 L374.3 252.3 L376.2 252.3 L376.2 256.2 L377.9 256.2 L377.9 253.8 L379.6 253.8 L379.6 251.5 L381.5 251.5 L381.5 248.8 L383.5 248.8 L383.5 246.2 L385.4 246.2 L385.4 243.5 L387.3 243.5 L387.3 245.0 L389.3 245.0 L389.3 246.5 L391.2 246.5 L391.2 248.0 L393.1 248.0 L393.1 249.2 L395.1 249.2 L395.1 250.3 L397.0 250.3 L397.0 251.5 L399.3 251.5 L399.3 251.9 L401.5 251.9 L401.5 252.3 L403.8 252.3 L403.8 252.7 L405.7 252.7 L405.7 251.9 L407.7 251.9 L407.7 251.2 L409.6 251.2 L409.6 250.4 L411.5 250.4 L411.5 250.8 L413.5 250.8 L413.5 251.1 L415.4 251.1 L415.4 251.5 L417.3 251.5 L417.3 251.1 L419.3 251.1 L419.3 250.8 L421.2 250.8 L421.2 250.4 L423.1 250.4 L423.1 251.5 L425.1 251.5 L425.1 252.7 L427.0 252.7 L427.0 253.8 L429.2 253.8 L429.2 257.3 L431.5 257.3 L431.5 260.8 L433.9 260.8 L433.9 259.6 L436.2 259.6 L436.2 258.5 L438.5 258.5 L438.5 256.8 L440.8 256.8 L440.8 255.0 L443.0 255.0 L443.0 250.4" fill="none" stroke="#dedede" stroke-width="1.1" stroke-dasharray="1.2 1.6" stroke-linejoin="miter"/>
<text class="th" transform="translate(131.6 102.3) rotate(-90)" font-size="18">&#916; [Ca<tspan font-size="12" dy="-7">+2</tspan><tspan dy="7">]</tspan><tspan font-style="italic">i</tspan></text><text class="th" transform="translate(153.4 87.8) rotate(-90)" font-size="16">75 nM</text><path d="M146.3 87.2 V105.5 M141 100.3 L146.3 105.5 L152.5 100.3" fill="none" stroke="#000" stroke-width="1.9"/><path d="M139.5 106.2 H148" stroke="#000" stroke-width="2.3"/><path d="M145.7 43.5 V23.8 M140.2 30.3 L145.7 23.8 L151.4 30.3" fill="none" stroke="#000" stroke-width="1.9"/><path d="M139.3 20.6 H148.8" stroke="#000" stroke-width="2"/>
<text class="th" transform="translate(131.6 250.3) rotate(-90)" font-size="18">&#916; [Ca<tspan font-size="12" dy="-7">+2</tspan><tspan dy="7">]</tspan><tspan font-style="italic">i</tspan></text><text class="th" transform="translate(153.4 235.8) rotate(-90)" font-size="16">75 nM</text><path d="M146.3 235.2 V253.5 M141 248.3 L146.3 253.5 L152.5 248.3" fill="none" stroke="#000" stroke-width="1.9"/><path d="M139.5 254.2 H148" stroke="#000" stroke-width="2.3"/><path d="M145.7 191.5 V171.8 M140.2 178.3 L145.7 171.8 L151.4 178.3" fill="none" stroke="#000" stroke-width="1.9"/><path d="M139.3 168.6 H148.8" stroke="#000" stroke-width="2"/>
<path d="M217.8 156.5 V137.5 M212.4 143.4 L217.8 137 L223.2 143.4" fill="none" stroke="#000" stroke-width="1.9"/>
<text class="th" transform="translate(223.5 155.6) scale(1.08 1)" font-size="17">PAF (10<tspan font-size="11" dy="-7">-8</tspan><tspan dy="7"> M)</tspan></text>
<path d="M218.5 301 V282.5 M213.3 288.4 L218.5 282 L223.8 288.4" fill="none" stroke="#000" stroke-width="1.9"/>
<text class="th" transform="translate(225.5 298.8) scale(1.04 1)" font-size="17">Eotaxin (10<tspan font-size="11" dy="-7">-9</tspan><tspan dy="7"> M)</tspan></text>
<text class="th" x="429.5" y="64" font-size="18.2">Vehicle</text>
<text class="th" x="446" y="97.3" font-size="17.8">ATL<tspan font-size="12.5" dx="1.2" dy="4.5">1</tspan></text>
<text class="th" x="430" y="237" font-size="18.2">Vehicle</text>
<text class="th" x="447" y="270.6" font-size="17.8">ATL<tspan font-size="12.5" dx="0.5" dy="4.5">1</tspan></text>
<path d="M365.6 284 H441.2 M365.6 281.2 V291.5 M441.2 281.2 V291.5" fill="none" stroke="#000" stroke-width="2"/>
<text class="th" x="389.8" y="302.7" font-size="14.5">30 s</text>
<path d="M103.1 362.6 H110.8" stroke="#000" stroke-width="2"/>
<path d="M103.7 495.9 H111.3" stroke="#000" stroke-width="2"/>
<path d="M104 628.4 H111.8" stroke="#000" stroke-width="2"/>
<text x="86" y="370.8" font-size="25.5">2</text>
<text x="86" y="503.8" font-size="25.5">1</text>
<text x="86" y="636.5" font-size="25.5">0</text>
<text transform="translate(49.6 619.5) rotate(-90)" font-size="25">Eotaxin (pmols/cavity)</text>
<circle cx="210.8" cy="401.8" r="6.3" fill="#fff" stroke="#000" stroke-width="2"/>
<circle cx="190.8" cy="410.5" r="6.3" fill="#fff" stroke="#000" stroke-width="2"/>
<circle cx="190.8" cy="432.3" r="6.3" fill="#fff" stroke="#000" stroke-width="2"/>
<circle cx="191.2" cy="500.5" r="6.3" fill="#fff" stroke="#000" stroke-width="2"/>
<circle cx="191.2" cy="544.2" r="6.3" fill="#fff" stroke="#000" stroke-width="2"/>
<circle cx="191.2" cy="569.5" r="6.3" fill="#fff" stroke="#000" stroke-width="2"/>
<path d="M166.2 459.5 H217.2" stroke="#000" stroke-width="3"/>
<text class="nb" x="211" y="456.7" font-size="26" font-weight="700">*</text>
<circle cx="290" cy="627.7" r="6.2" fill="#ececec" stroke="#d8d8d8" stroke-width="0.8"/>
<circle cx="310.8" cy="630.8" r="6.2" fill="#ececec" stroke="#d8d8d8" stroke-width="0.8"/>
<circle cx="330.8" cy="630.8" r="6.2" fill="#ececec" stroke="#d8d8d8" stroke-width="0.8"/>
<circle cx="301.5" cy="620.3" r="6.3" fill="#d6d6d6" stroke="#a8a8a8" stroke-width="1.1"/>
<circle cx="320.5" cy="620.3" r="6.3" fill="#d6d6d6" stroke="#a8a8a8" stroke-width="1.1"/>
<circle cx="341" cy="618.5" r="6.3" fill="#d6d6d6" stroke="#a8a8a8" stroke-width="1.1"/>
<path d="M290.5 624.2 H341.5" stroke="#000" stroke-width="3"/>
<text class="nb" x="335.4" y="606.2" font-size="25" font-weight="700" letter-spacing="2">**</text>
<circle cx="430.7" cy="586.8" r="6.8" fill="#000"/>
<circle cx="410.4" cy="624" r="6.8" fill="#000"/>
<circle cx="430.7" cy="628.8" r="6.8" fill="#000"/>
<circle cx="440.2" cy="623.6" r="6.8" fill="#000"/>
<circle cx="450.6" cy="628.8" r="6.8" fill="#000"/>
<path d="M406.4 615.9 H457.5" stroke="#000" stroke-width="2.6"/>
<path d="M110.8 362.6 L509.8 362.9 L510.6 628.7 L111.8 628.4 Z" fill="none" stroke="#000" stroke-width="2"/>
<path d="M290.5 624.2 H341.5" stroke="#000" stroke-width="3"/>
<path d="M406.4 615.9 H457.5" stroke="#000" stroke-width="2.6"/>
<text class="nb" x="451.7" y="606.4" font-size="25" font-weight="700" letter-spacing="2.3">**</text>
<text x="10.3" y="673.9" font-size="25.3">Sensitization</text>
<text x="37" y="711.5" font-size="25.3">Treatment</text>
<text x="194.6" y="673" font-size="25.3" text-anchor="middle">+</text>
<text x="317.8" y="673" font-size="25.3" text-anchor="middle">+</text>
<text x="437.8" y="673" font-size="25.3" text-anchor="middle">+</text>
<text x="195" y="711.5" font-size="25.3" text-anchor="middle">-</text>
<text x="295.3" y="710.3" font-size="25.3">ATL<tspan font-size="17.5" dx="1.5" dy="5">1</tspan></text>
<text x="414.8" y="710.3" font-size="25.3">ATL<tspan font-size="17.5" dx="2.5" dy="5">2</tspan></text>
<path d="M112.3 784.4 L511.2 785.3 L511.5 1050.4 L112.9 1049.9 Z" fill="none" stroke="#000" stroke-width="2"/>
<path d="M104.9 1049.9 H112.9" stroke="#000" stroke-width="2"/>
<path d="M104.8 983.5 H112.8" stroke="#000" stroke-width="2"/>
<path d="M104.6 917.1 H112.6" stroke="#000" stroke-width="2"/>
<path d="M104.5 850.8 H112.5" stroke="#000" stroke-width="2"/>
<path d="M104.3 784.4 H112.3" stroke="#000" stroke-width="2"/>
<text x="87.5" y="1058.6" font-size="25.5">0</text>
<text x="87.5" y="992.2" font-size="25.5">1</text>
<text x="87.5" y="925.8" font-size="25.5">2</text>
<text x="87.5" y="859.4" font-size="25.5">3</text>
<text x="87.5" y="793.0" font-size="25.5">4</text>
<text transform="translate(50.2 1048.6) rotate(-90)" font-size="24.6">Eosinophils x 10<tspan font-size="18" dx="1.2" dy="-10.6">6</tspan><tspan dx="0.8" dy="10.6">/cavity</tspan></text>
<path d="M174.4 983.9 V976.9 M158.2 976.9 H190.6" stroke="#000" stroke-width="2" fill="none"/>
<rect x="144.1" y="983.9" width="61.2" height="66.1" fill="#fff" stroke="#000" stroke-width="2"/>
<path d="M265.9 863.4 V841.5 M249.8 841.5 H281.9" stroke="#000" stroke-width="2" fill="none"/>
<rect x="235.9" y="863.4" width="61.2" height="186.6" fill="#fff" stroke="#000" stroke-width="2"/>
<path d="M358.2 970.5 V960.8 M342.1 960.8 H374.4" stroke="#000" stroke-width="2" fill="none"/>
<rect x="328" y="970.5" width="60.4" height="79.5" fill="#c6c6c6" stroke="#000" stroke-width="2"/>
<path d="M450.4 967.5 V962.1 M434.2 962.1 H466.7" stroke="#000" stroke-width="2" fill="none"/>
<rect x="419.5" y="967.5" width="61.1" height="82.5" fill="#000" stroke="#000" stroke-width="2"/>
<text class="nb" x="262" y="838.8" font-size="22" font-weight="700">*</text>
<text class="nb" x="351.1" y="958.6" font-size="22" font-weight="700" letter-spacing="1">**</text>
<text class="nb" x="441.4" y="961.8" font-size="22" font-weight="700" letter-spacing="1.3">**</text>
<text x="90.5" y="1093.5" font-size="25.3">PAF</text>
<text x="12.8" y="1131.5" font-size="25.3">Treatments</text>
<text x="263.6" y="1093.8" font-size="25.3" text-anchor="middle">+</text>
<text x="358.2" y="1093.8" font-size="25.3" text-anchor="middle">+</text>
<text x="451.5" y="1093.8" font-size="25.3" text-anchor="middle">+</text>
<text x="174.4" y="1094" font-size="25.3" text-anchor="middle">-</text>
<text x="174.4" y="1131.5" font-size="25.3" text-anchor="middle">-</text>
<text x="263.7" y="1131.5" font-size="25.3" text-anchor="middle">-</text>
<text x="333.4" y="1130.5" font-size="25.3">ATL<tspan font-size="17.5" dx="1" dy="5">1</tspan></text>
<text x="426.8" y="1130.5" font-size="25.3">ATL<tspan font-size="17.5" dx="2" dy="5">2</tspan></text>
</svg>
</body></html>
